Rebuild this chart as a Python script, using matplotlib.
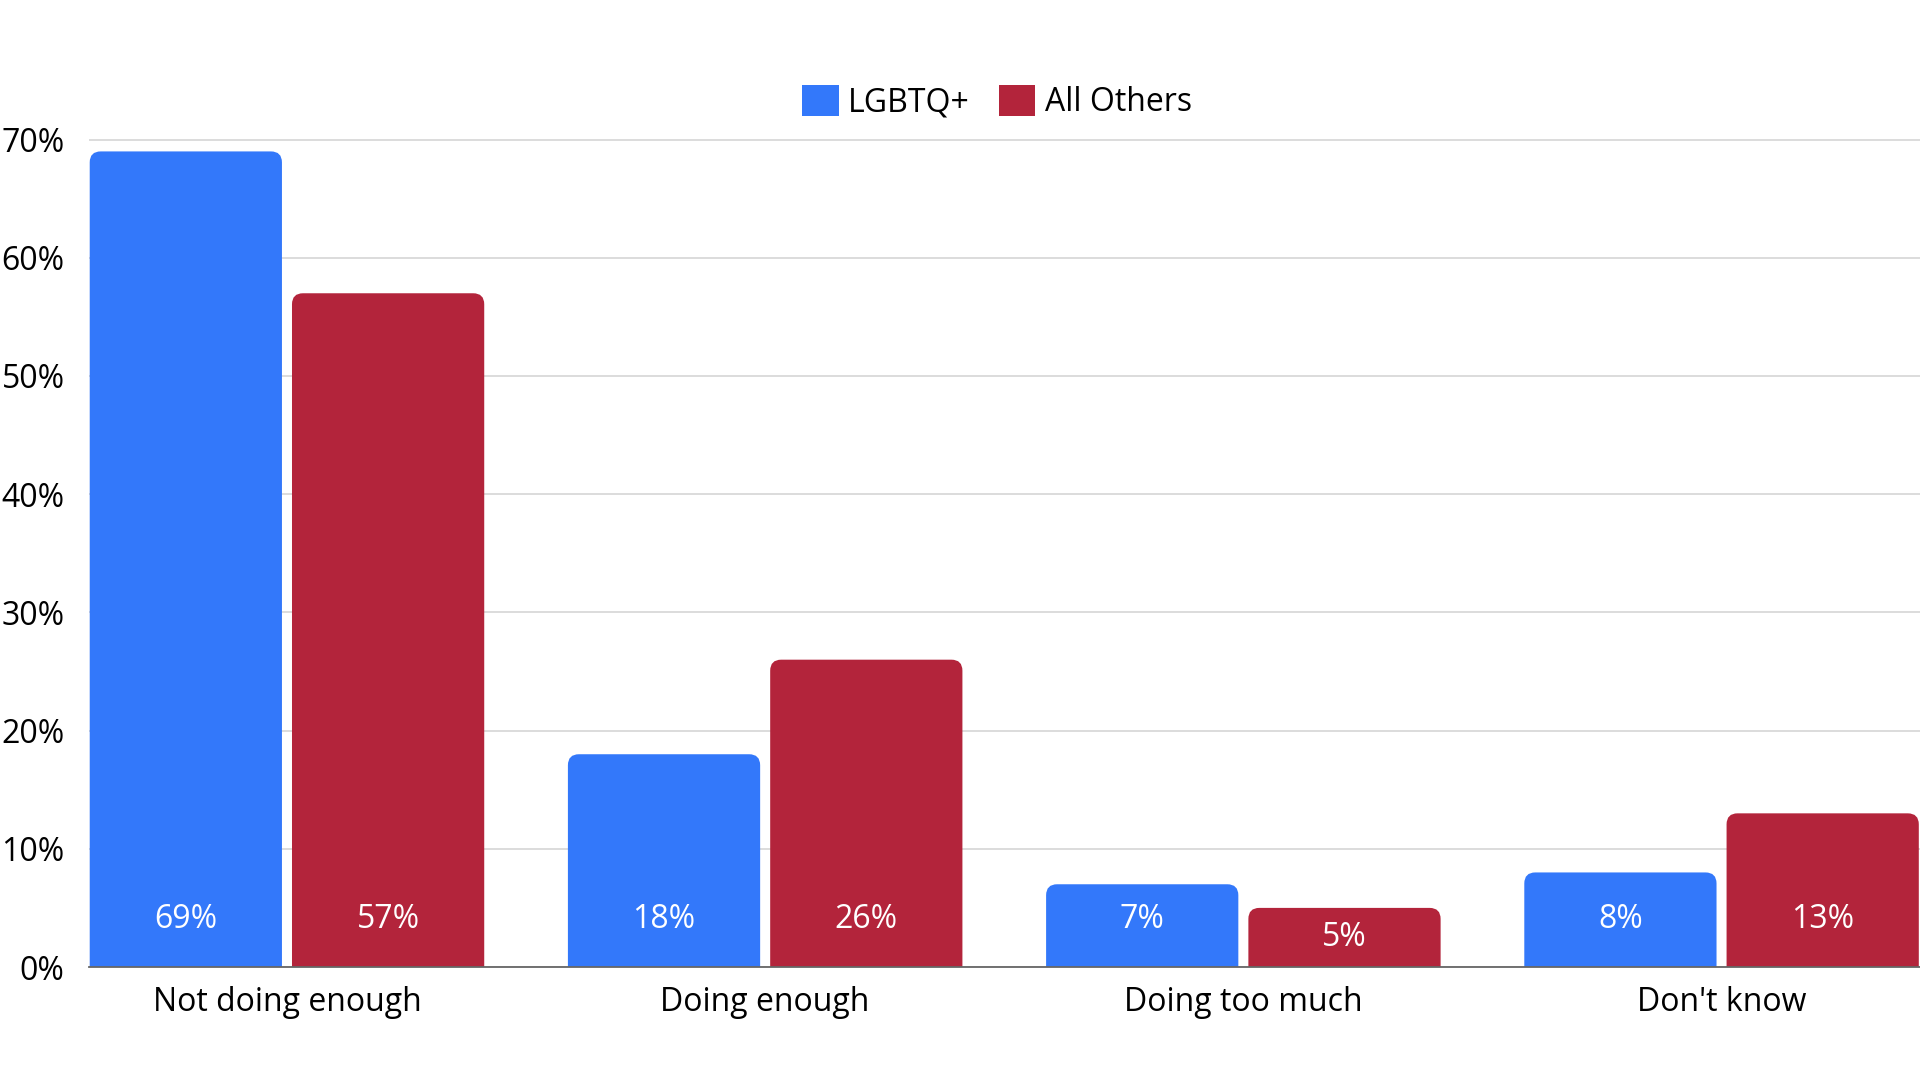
"""
Grouped bar chart: views on whether enough is being done, LGBTQ+ vs all others.
"""
import matplotlib.pyplot as plt
from matplotlib.patches import PathPatch, Patch
from matplotlib.path import Path
import numpy as np

categories = ["Not doing enough", "Doing enough", "Doing too much", "Don't know"]
lgbtq = [69, 18, 7, 8]
all_others = [57, 26, 5, 13]
series_names = ["LGBTQ+", "All Others"]
y_ticks = [0, 10, 20, 30, 40, 50, 60, 70]

BLUE = "#3378fa"
RED = "#b3243b"

plt.rcParams['font.family'] = ['Open Sans', 'DejaVu Sans']

W, H, DPI = 1920, 1080, 100
fig = plt.figure(figsize=(W / DPI, H / DPI), dpi=DPI)

ax_left_px, ax_right_px = 89, 1920
base_px, px_per_unit = 967, 11.82
y_top = 70.5
ax_bottom = 1 - base_px / H
ax_height = y_top * px_per_unit / H
ax = fig.add_axes([ax_left_px / W, ax_bottom, (ax_right_px - ax_left_px) / W, ax_height])

x = np.arange(len(categories))
bar_w = 0.402
offset = 0.2115
xlim = (-0.414, 3.415)
ax.set_xlim(*xlim)
ax.set_ylim(0, y_top)

bars_a = ax.bar(x - offset, lgbtq, bar_w, color=BLUE)
bars_b = ax.bar(x + offset, all_others, bar_w, color=RED)

# Replace plain rectangles with top-rounded shapes
radius_px = 11
rx = radius_px * (xlim[1] - xlim[0]) / (ax_right_px - ax_left_px)
ry = radius_px / px_per_unit


def rounded_top(rect):
    x0, w, h = rect.get_x(), rect.get_width(), rect.get_height()
    x1 = x0 + w
    verts = [(x0, 0), (x0, h - ry), (x0, h), (x0 + rx, h),
             (x1 - rx, h), (x1, h), (x1, h - ry), (x1, 0), (x0, 0)]
    codes = [Path.MOVETO, Path.LINETO, Path.CURVE3, Path.CURVE3,
             Path.LINETO, Path.CURVE3, Path.CURVE3, Path.LINETO, Path.CLOSEPOLY]
    return Path(verts, codes)


for bars in (bars_a, bars_b):
    for rect in bars:
        rect.set_visible(False)
        patch = PathPatch(rounded_top(rect), facecolor=rect.get_facecolor(),
                          edgecolor='none', zorder=2)
        ax.add_patch(patch)
        v = rect.get_height()
        # label sits near the base, or mid-bar when the bar is too short
        ypos = 4.05 if v >= 6 else v / 2
        ax.text(rect.get_x() + rect.get_width() / 2, ypos, f"{v:.0f}%",
                ha='center', va='center', color='white', fontsize=23, zorder=3)

# Axes styling
ax.set_yticks(y_ticks)
ax.set_yticklabels([f"{t}%" for t in y_ticks])
ax.set_xticks(x)
ax.set_xticklabels(categories)
ax.tick_params(axis='y', length=0, labelsize=23, pad=17.5)
ax.tick_params(axis='x', length=0, labelsize=23, pad=14)
ax.yaxis.grid(True, color='#d9d9d9', linewidth=1.3)
ax.set_axisbelow(True)
for side in ('top', 'right', 'left'):
    ax.spines[side].set_visible(False)
ax.spines['bottom'].set_color('#666666')
ax.spines['bottom'].set_linewidth(1.3)
ax.spines['bottom'].set_zorder(4)

handles = [Patch(facecolor=BLUE, edgecolor='none'), Patch(facecolor=RED, edgecolor='none')]
ax.legend(handles, series_names, loc='center', bbox_to_anchor=(997 / W, 1 - 102 / H),
          bbox_transform=fig.transFigure, ncol=2, frameon=False, fontsize=23,
          handlelength=1.15, handleheight=1.15, handletextpad=0.3, columnspacing=0.9)

fig.savefig("out.png", dpi=DPI)
